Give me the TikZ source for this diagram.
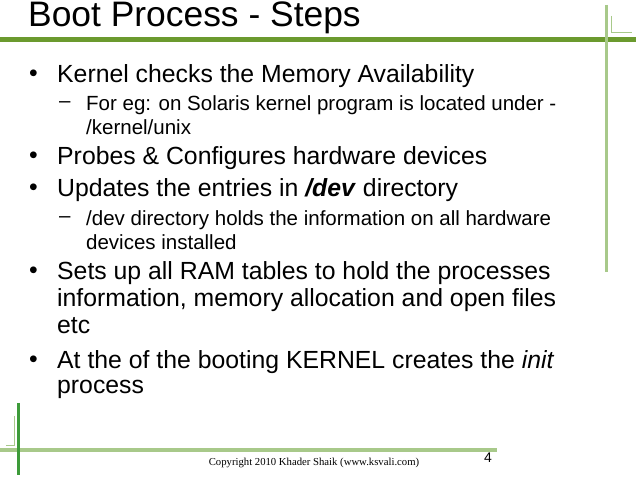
\documentclass[tikz,border=0pt]{standalone}
\usepackage{fontspec}
\setmainfont{Liberation Sans}
\newfontfamily\serifx{Liberation Serif}
\definecolor{dg}{HTML}{6B9A2E}
\definecolor{lg}{HTML}{A8C98A}
\definecolor{vg}{HTML}{3E9B3A}
\begin{document}
\begin{tikzpicture}[x=1pt,y=-1pt,
 title/.style={anchor=west,inner sep=0,font=\fontsize{35.4}{35}\selectfont},
 big/.style={anchor=west,inner sep=0,font=\fontsize{24.8}{24}\selectfont},
 small/.style={anchor=west,inner sep=0,font=\fontsize{20.5}{20}\selectfont}]
\useasboundingbox[fill=white] (0,0) rectangle (638,478);
\draw[dg,line width=5] (0,40) -- (636,40);
\draw[lg,line width=3] (606,5) -- (606,272);
\draw[lg,line width=0.8] (611,16) -- (611,32) -- (632,32);
\draw[lg,line width=4] (0,450) -- (497,450);
\draw[vg,line width=3] (18,403) -- (18,475);
\draw[lg,line width=0.8] (14,416) -- (14,445) -- (6,445);
\node[title] (t) at (28,18) {Boot Process - Steps};
\node[big] (b1d) at (29,76) {•};
\node[big] (b1) at (57,76) {Kernel checks the Memory Availability};
\node[small] (s1d) at (59,105) {–};
\node[small] (s1) at (86,105) {For eg: on Solaris kernel program is located under -};
\node[small] (s1b) at (86,127) {/kernel/unix};
\node[big] (b2d) at (29,158) {•};
\node[big] (b2) at (57,158) {Probes \& Configures hardware devices};
\node[big] (b3d) at (29,190) {•};
\node[big] (b3) at (57,190) {Updates the entries in \textbf{\textit{/dev}} directory};
\node[small] (s2d) at (59,220) {–};
\node[small] (s2) at (86,220) {/dev directory holds the information on all hardware};
\node[small] (s2b) at (86,242) {devices installed};
\node[big] (b4d) at (29,273) {•};
\node[big] (b4) at (57,273) {Sets up all RAM tables to hold the processes};
\node[big] (b4b) at (57,300) {information, memory allocation and open files};
\node[big] (b4c) at (57,326) {etc};
\node[big] (b5d) at (29,362) {•};
\node[big] (b5) at (57,362) {At the of the booting KERNEL creates the \textit{init}};
\node[big] (b5b) at (57,389) {process};
\node[inner sep=0,font=\serifx\fontsize{10.7}{10.7}\selectfont] (c) at (314,463) {Copyright 2010 Khader Shaik (www.ksvali.com)};
\node[inner sep=0,font=\fontsize{14}{14}\selectfont] (n) at (488,458) {4};
\end{tikzpicture}
\end{document}
